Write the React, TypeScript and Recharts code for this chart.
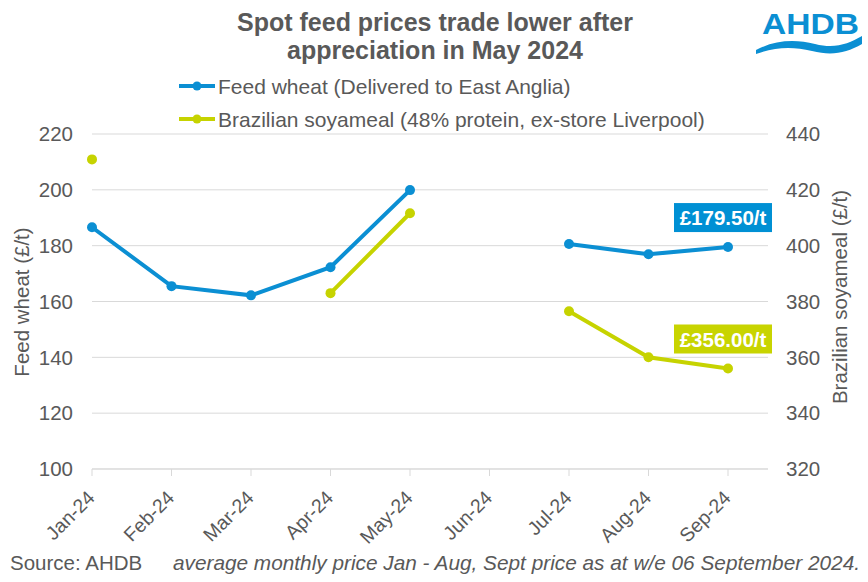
import React from 'react';
import { LineChart, Line, XAxis, YAxis, CartesianGrid, LabelList } from 'recharts';

const months = ['Jan-24', 'Feb-24', 'Mar-24', 'Apr-24', 'May-24', 'Jun-24', 'Jul-24', 'Aug-24', 'Sep-24'];
const feedWheat: (number | null)[] = [186.6, 165.5, 162.2, 172.3, 199.9, null, 180.6, 176.9, 179.5];
const soyameal: (number | null)[] = [430.9, null, null, 383.0, 411.6, null, 376.5, 360.0, 356.0];
const leftTicks = [100, 120, 140, 160, 180, 200, 220];
const rightTicks = [320, 340, 360, 380, 400, 420, 440];

const title1 = 'Spot feed prices trade lower after';
const title2 = 'appreciation in May 2024';
const legendWheat = 'Feed wheat (Delivered to East Anglia)';
const legendSoya = 'Brazilian soyameal (48% protein, ex-store Liverpool)';
const leftTitle = 'Feed wheat (£/t)';
const rightTitle = 'Brazilian soyameal (£/t)';
const sourceText = 'Source: AHDB';
const noteText = 'average monthly price Jan - Aug, Sept price as at w/e 06 September 2024.';

const BLUE = '#0b8fd3';
const GREEN = '#c6d300';
const TEXT = '#595959';
const GRID = '#d9d9d9';
const FONT = '"Liberation Sans", Arial, sans-serif';

const data = months.map((m, i) => ({ month: m, wheat: feedWheat[i], soya: soyameal[i] }));
const lastIdx = months.length - 1;

const XTick = (props: any) => {
  const { x, payload } = props;
  const ax = x + 4;
  const ay = 499;
  return (
    <text x={ax} y={ay} transform={`rotate(-45, ${ax}, ${ay})`} textAnchor="end" fill={TEXT} fontSize={19.5} fontFamily={FONT}>
      {payload.value}
    </text>
  );
};

const makeEndLabel = (color: string) => (props: any) => {
  const { x, y, index, value } = props;
  if (index !== lastIdx || value == null) return null;
  return (
    <g>
      <rect x={x - 54} y={y - 44} width={98} height={29} fill={color} />
      <text x={x - 5} y={y - 29.5} textAnchor="middle" dominantBaseline="central" fill="#fff" fontWeight="bold" fontSize={20.5} fontFamily={FONT}>
        {`£${Number(value).toFixed(2)}/t`}
      </text>
    </g>
  );
};

export default function App() {
  return (
    <div style={{ position: 'absolute', left: 0, top: 0, width: 868, height: 582, background: '#fff', fontFamily: FONT }}>
      <LineChart width={868} height={582} data={data} margin={{ top: 134, right: 40, bottom: 43, left: 32 }}>
        <CartesianGrid vertical={false} stroke={GRID} strokeWidth={1} yAxisId="left" />
        <XAxis
          dataKey="month"
          interval={0}
          padding={{ left: 0, right: 40 }}
          height={70}
          axisLine={{ stroke: GRID }}
          tickLine={{ stroke: GRID }}
          tickSize={7}
          tick={<XTick />}
        />
        <YAxis
          yAxisId="left"
          orientation="left"
          width={60}
          domain={[100, 220]}
          ticks={leftTicks}
          axisLine={false}
          tickLine={false}
          tickSize={0}
          tickMargin={19}
          tick={{ fill: TEXT, fontSize: 20.5, fontFamily: FONT }}
        />
        <YAxis
          yAxisId="right"
          orientation="right"
          width={60}
          domain={[320, 440]}
          ticks={rightTicks}
          axisLine={false}
          tickLine={false}
          tickSize={0}
          tickMargin={18}
          tick={{ fill: TEXT, fontSize: 20.5, fontFamily: FONT, textAnchor: 'start' }}
        />
        <Line
          yAxisId="left"
          dataKey="wheat"
          stroke={BLUE}
          strokeWidth={4}
          dot={{ r: 5, fill: BLUE, stroke: BLUE, strokeWidth: 0 }}
          connectNulls={false}
          isAnimationActive={false}
        >
          <LabelList dataKey="wheat" content={makeEndLabel('#0090d4')} />
        </Line>
        <Line
          yAxisId="right"
          dataKey="soya"
          stroke={GREEN}
          strokeWidth={4}
          dot={{ r: 5, fill: GREEN, stroke: GREEN, strokeWidth: 0 }}
          connectNulls={false}
          isAnimationActive={false}
        >
          <LabelList dataKey="soya" content={makeEndLabel('#c8d400')} />
        </Line>
      </LineChart>
      <svg width={868} height={582} style={{ position: 'absolute', left: 0, top: 0, pointerEvents: 'none' }}>
        <text x={435} y={31} textAnchor="middle" fontWeight="bold" fontSize={25} fill={TEXT} fontFamily={FONT}>{title1}</text>
        <text x={435} y={59} textAnchor="middle" fontWeight="bold" fontSize={25} fill={TEXT} fontFamily={FONT}>{title2}</text>

        <line x1={179} y1={86} x2={215} y2={86} stroke={BLUE} strokeWidth={4} />
        <circle cx={197} cy={86} r={4.5} fill={BLUE} />
        <text x={218} y={86} dominantBaseline="central" fontSize={21} fill={TEXT} fontFamily={FONT}>{legendWheat}</text>
        <line x1={179} y1={119} x2={215} y2={119} stroke={GREEN} strokeWidth={4} />
        <circle cx={197} cy={119} r={4.5} fill={GREEN} />
        <text x={218} y={119} dominantBaseline="central" fontSize={21} fill={TEXT} fontFamily={FONT}>{legendSoya}</text>

        <text transform="translate(29, 302) rotate(-90)" textAnchor="middle" fontSize={20.5} fill={TEXT} fontFamily={FONT}>{leftTitle}</text>
        <text transform="translate(847, 297) rotate(-90)" textAnchor="middle" fontSize={20.5} fill={TEXT} fontFamily={FONT}>{rightTitle}</text>

        <text x={10} y={570} fontSize={20.5} fill={TEXT} fontFamily={FONT}>{sourceText}</text>
        <text x={860} y={570} textAnchor="end" fontSize={20.8} fontStyle="italic" fill={TEXT} fontFamily={FONT}>{noteText}</text>

        <text x={762} y={34} fontSize={30} fontWeight="bold" fill={BLUE} fontFamily={FONT} textLength={97} lengthAdjust="spacingAndGlyphs">AHDB</text>
        <path d="M756,50 C775,40 795,39 815,44 C835,49 848,44 862,36 L862,44 C846,53 832,56 812,51 C792,46 775,47 756,54 Z" fill={BLUE} />
      </svg>
    </div>
  );
}
